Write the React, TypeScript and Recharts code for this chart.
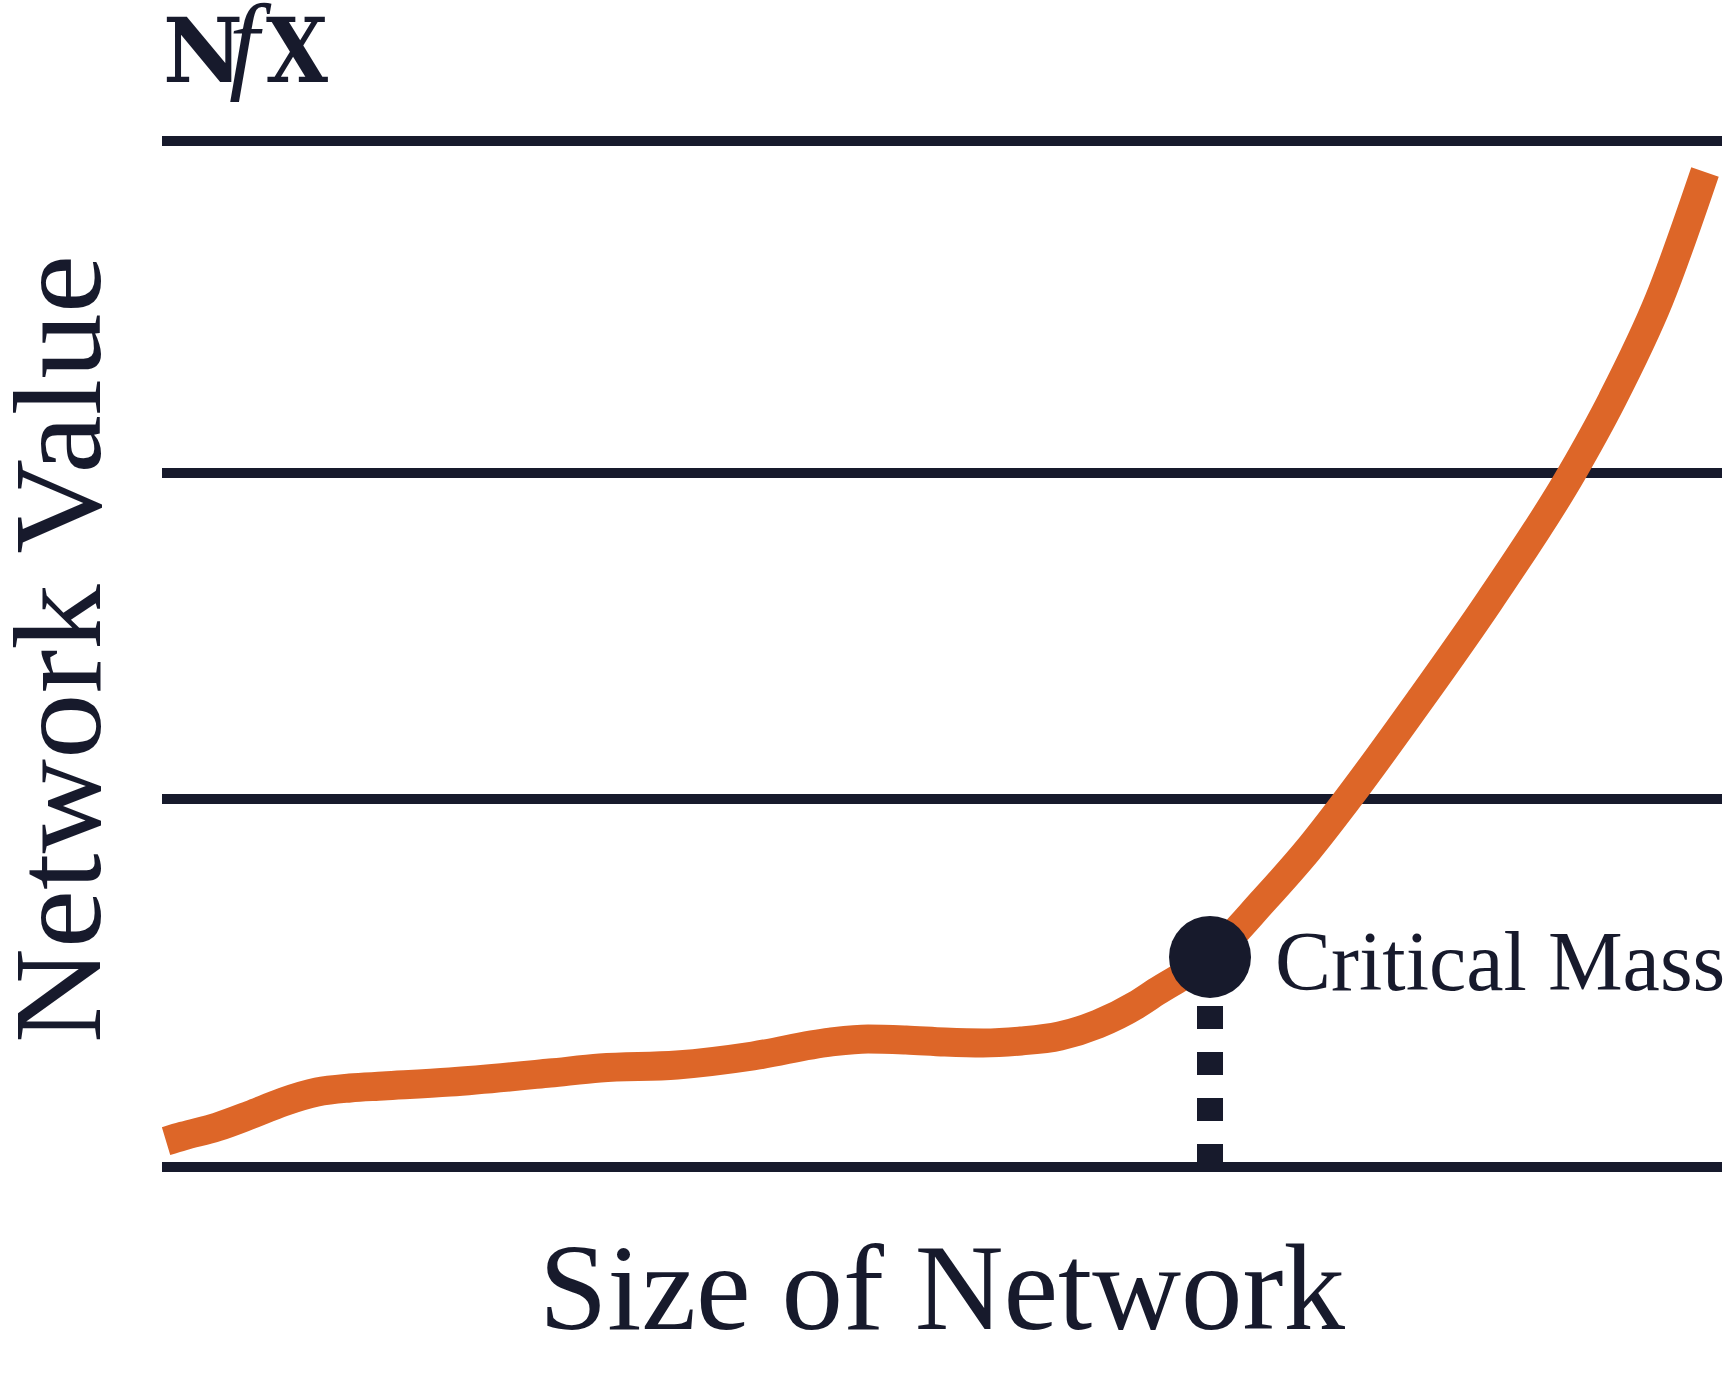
import { LineChart, Line, XAxis, YAxis, ReferenceLine, ReferenceDot, Label } from 'recharts'

const sizeOfNetwork = [
  0.26, 1.35, 3.53, 5.64, 7.76, 9.94, 12.05, 14.17, 18.46, 24.87, 28.08, 33.01, 37.88, 42.82,
  45.26, 47.69, 50.19, 52.63, 55.06, 57.56, 60.0, 62.44, 63.72, 67.18, 70.64, 73.46, 75.96,
  80.64, 85.13, 90.38, 92.95, 95.96, 98.91,
]
const networkValue = [
  2.53, 3.02, 3.9, 5.07, 6.34, 7.31, 7.7, 7.89, 8.28, 9.16, 9.65, 9.94, 10.82, 12.18,
  12.48, 12.38, 12.18, 12.09, 12.28, 12.77, 13.94, 15.79, 17.06, 20.47, 26.02, 30.9, 35.77,
  45.52, 55.26, 67.64, 74.76, 84.5, 96.98,
]
const gridValues = [0, 35.87, 67.64, 100]
const criticalMass = { size: 67.18, value: 20.47, label: 'Critical Mass' }
const xLabel = 'Size of Network'
const yLabel = 'Network Value'

const data = sizeOfNetwork.map((size, i) => ({ size, value: networkValue[i] }))

const INK = '#171a2c'
const ORANGE = '#dd6628'
const SERIF = '"Liberation Serif", "Times New Roman", serif'
const SLAB = '"DejaVu Serif", serif'

function YTitle(props: any) {
  const { x, y, width, height } = props.viewBox
  const cx = x + width - 62
  const cy = y + height / 2 - 5
  return (
    <text
      x={cx}
      y={cy}
      transform={`rotate(-90 ${cx} ${cy})`}
      textAnchor="middle"
      fontFamily={SERIF}
      fontSize={125}
      fill={INK}
      textLength={788}
      lengthAdjust="spacingAndGlyphs"
    >
      {yLabel}
    </text>
  )
}

function XTitle(props: any) {
  const { x, y, width } = props.viewBox
  return (
    <text x={x + width / 2} y={y + 162} textAnchor="middle" fontFamily={SERIF} fontSize={123} fill={INK}>
      {xLabel}
    </text>
  )
}

function MassLabel(props: any) {
  const { x, y, width, height } = props.viewBox
  return (
    <text x={x + width / 2 + 65} y={y + height / 2 + 33} fontFamily={SERIF} fontSize={84} fill={INK}>
      {criticalMass.label}
    </text>
  )
}

export default function App() {
  return (
    <div style={{ position: 'absolute', left: 0, top: 0, width: 1724, height: 1382, background: '#fff' }}>
      <LineChart width={1724} height={1382} data={data} margin={{ top: 141, right: 2, bottom: 185, left: 102 }}>
        <XAxis dataKey="size" type="number" domain={[0, 100]} tick={false} axisLine={false} tickLine={false} height={30}>
          <Label content={XTitle} />
        </XAxis>
        <YAxis type="number" domain={[0, 100]} tick={false} axisLine={false} tickLine={false} width={60}>
          <Label content={YTitle} />
        </YAxis>
        {gridValues.map((v) => (
          <ReferenceLine key={v} y={v} stroke={INK} strokeWidth={10} />
        ))}
        <ReferenceLine
          segment={[
            { x: criticalMass.size, y: 0 },
            { x: criticalMass.size, y: criticalMass.value },
          ]}
          stroke={INK}
          strokeWidth={26}
          strokeDasharray="23 23"
        />
        <Line
          type="monotone"
          dataKey="value"
          stroke={ORANGE}
          strokeWidth={29}
          dot={false}
          activeDot={false}
          isAnimationActive={false}
        />
        <ReferenceDot x={criticalMass.size} y={criticalMass.value} r={41} fill={INK} stroke="none">
          <Label content={MassLabel} />
        </ReferenceDot>
      </LineChart>
      <svg width={1724} height={1382} style={{ position: 'absolute', left: 0, top: 0, pointerEvents: 'none' }}>
        <text y={82} fill={INK}>
          <tspan x={163} fontFamily={SLAB} fontWeight="bold" fontSize={89} textLength={80} lengthAdjust="spacingAndGlyphs">
            N
          </tspan>
          <tspan x={229} y={79} fontFamily={SERIF} fontStyle="italic" fontSize={108}>
            f
          </tspan>
          <tspan x={266} y={82} fontFamily={SLAB} fontWeight="bold" fontSize={89} textLength={62} lengthAdjust="spacingAndGlyphs">
            X
          </tspan>
        </text>
      </svg>
    </div>
  )
}
